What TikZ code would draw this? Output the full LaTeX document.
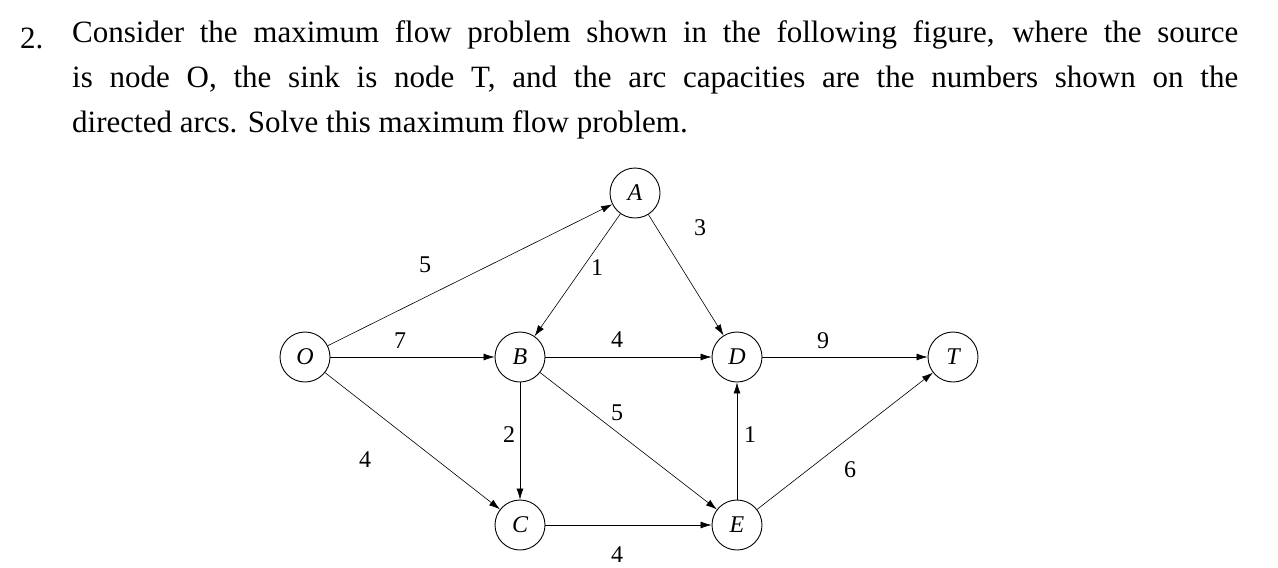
\documentclass[tikz,border=0pt]{standalone}
\usepackage{fontspec}
\setmainfont{Liberation Serif}
\usetikzlibrary{arrows.meta}
\begin{document}
\begin{tikzpicture}[x=1pt,y=-1pt,
  nd/.style={circle,draw,line width=0.9pt,minimum size=50pt,inner sep=0pt,font=\fontsize{24}{24}\selectfont\itshape},
  arc/.style={line width=0.6pt,-{Latex[length=11pt,width=7pt]}},
  lb/.style={font=\fontsize{24}{24}\selectfont}]
\useasboundingbox (0,0) rectangle (1278,568);
\node[anchor=base west,inner sep=0pt] (q) at (20,48)
 {\fontsize{31}{45}\selectfont 2.};
\node[anchor=north west,inner sep=0pt,text width=1166pt,align=justify] (qt) at (72,20)
 {\fontsize{31}{45}\selectfont Consider the maximum flow problem shown in the following figure, where the source\linebreak is node O, the sink is node T, and the arc capacities are the numbers shown on the\linebreak directed arcs. Solve this maximum flow problem.\par};
\node[nd] (O) at (305,357) {O};
\node[nd] (B) at (520,357) {B};
\node[nd] (A) at (635,193) {A};
\node[nd] (D) at (737,357) {D};
\node[nd] (T) at (953,357) {T};
\node[nd] (C) at (520,525) {C};
\node[nd] (E) at (737,525) {E};
\draw[arc] (O) -- (A);
\draw[arc] (O) -- (B);
\draw[arc] (O) -- (C);
\draw[arc] (A) -- (B);
\draw[arc] (A) -- (D);
\draw[arc] (B) -- (D);
\draw[arc] (B) -- (C);
\draw[arc] (B) -- (E);
\draw[arc] (D) -- (T);
\draw[arc] (E) -- (D);
\draw[arc] (C) -- (E);
\draw[arc] (E) -- (T);
\node[lb] (l1) at (425,265) {5};
\node[lb] (l2) at (400,341) {7};
\node[lb] (l3) at (365,460) {4};
\node[lb] (l4) at (597,268) {1};
\node[lb] (l5) at (700,228) {3};
\node[lb] (l6) at (617,340) {4};
\node[lb] (l7) at (823,341) {9};
\node[lb] (l8) at (509,435) {2};
\node[lb] (l9) at (617,413) {5};
\node[lb] (l10) at (750,435) {1};
\node[lb] (l11) at (850,470) {6};
\node[lb] (l12) at (617,555) {4};
\end{tikzpicture}
\end{document}
